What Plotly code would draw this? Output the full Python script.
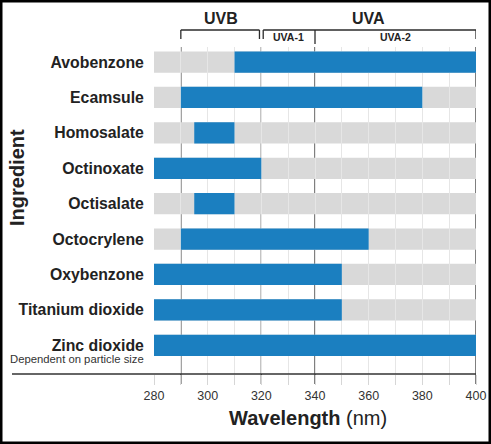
import plotly.graph_objects as go

# absorbance range of each sunscreen ingredient (nm)
ingredients = ["Avobenzone", "Ecamsule", "Homosalate", "Octinoxate", "Octisalate",
               "Octocrylene", "Oxybenzone", "Titanium dioxide", "Zinc dioxide"]
start_nm = [310, 290, 295, 280, 295, 290, 280, 280, 280]
end_nm = [400, 380, 310, 320, 310, 360, 350, 350, 400]

x_min, x_max = 280, 400
tick_vals = list(range(280, 401, 10))
tick_text = [str(v) if v % 20 == 0 else "" for v in tick_vals]
band_lines = [290, 320, 340, 400]

# UV bands shown on top
uv_main = [("UVB", 290, 320, 305), ("UVA", 320, 400, 360)]
uv_sub = [("UVA-1", 330), ("UVA-2", 370)]
uv_sub_split = 340

W, H = 491, 444
top, bottom, left, right = 47, 374, 154, 476


def py(p):
    # pixel row -> paper y
    return (bottom - p) / (bottom - top)


def px_(p):
    return (p - left) / (right - left)


blue = "#1b7fc0"
band = "#d9d9d9"
dark = "#2b2b2b"

fig = go.Figure()
fig.add_trace(go.Bar(
    y=ingredients, x=[e - s for s, e in zip(start_nm, end_nm)], base=start_nm,
    orientation="h", width=0.6, marker=dict(color=blue, line=dict(width=0)),
    showlegend=False, hoverinfo="skip"))

shapes = []
# grey band behind every row
for i in range(len(ingredients)):
    shapes.append(dict(type="rect", xref="x", yref="y", x0=x_min, x1=x_max,
                       y0=i - 0.3, y1=i + 0.3, fillcolor=band, line_width=0,
                       layer="below"))
# dark lines at band boundaries
for v in band_lines:
    shapes.append(dict(type="line", xref="x", yref="paper", x0=v, x1=v,
                       y0=py(384), y1=1, line=dict(color=dark, width=1.2),
                       layer="between"))
# brackets
for name, a, b, c in uv_main:
    a2 = a + 0.7 if a == 320 else a
    b2 = b - 0.7 if b == 320 else b
    shapes.append(dict(type="line", xref="x", yref="paper", x0=a2, x1=b2,
                       y0=py(30), y1=py(30), line=dict(color=dark, width=1.3)))
    for v in (a2, b2):
        shapes.append(dict(type="line", xref="x", yref="paper", x0=v, x1=v,
                           y0=py(30), y1=py(39), line=dict(color=dark, width=1.3)))
shapes.append(dict(type="line", xref="x", yref="paper", x0=uv_sub_split, x1=uv_sub_split,
                   y0=py(30), y1=py(44), line=dict(color=dark, width=1.3)))
# x axis line
shapes.append(dict(type="line", xref="paper", yref="paper", x0=px_(12), x1=1,
                   y0=0, y1=0, line=dict(color="#333333", width=1.5)))
# outer frame
shapes.append(dict(type="rect", xref="paper", yref="paper", x0=px_(1), x1=px_(490),
                   y0=py(443), y1=py(1), line=dict(color="black", width=3)))

annotations = []
for name, a, b, c in uv_main:
    annotations.append(dict(text="<b>%s</b>" % name, x=c, xref="x", y=py(18), yref="paper",
                            font=dict(size=16, color="#222222")))
for name, c in uv_sub:
    annotations.append(dict(text="<b>%s</b>" % name, x=c, xref="x", y=py(37), yref="paper",
                            font=dict(size=10.5, color="#222222")))
annotations.append(dict(text="Dependent on particle size", x=px_(146), xref="paper",
                        xanchor="right", y=py(359), yref="paper",
                        font=dict(size=11.3, color="#333333")))
annotations.append(dict(text="<b>Ingredient</b>", x=px_(17), xref="paper", y=py(178),
                        yref="paper", textangle=-90,
                        font=dict(size=20, color="#222222")))
annotations.append(dict(text="<b>Wavelength</b> (nm)", x=px_(308), xref="paper",
                        y=py(418), yref="paper",
                        font=dict(size=20, color="#222222")))
for a in annotations:
    a["showarrow"] = False
    a.setdefault("xanchor", "center")
    a["yanchor"] = "middle"

fig.update_layout(
    width=W, height=H,
    margin=dict(l=left, r=W - right, t=top, b=H - bottom, autoexpand=False),
    paper_bgcolor="white", plot_bgcolor="white",
    font=dict(family="Liberation Sans, Arial, sans-serif"),
    shapes=shapes, annotations=annotations, bargap=0.4,
    xaxis=dict(range=[x_min, x_max], tickvals=tick_vals, ticktext=tick_text,
               showgrid=True, gridcolor="#e6e6e6", gridwidth=1,
               ticks="outside", ticklen=10, tickcolor="#d6d6d6",
               showline=False, zeroline=False,
               tickfont=dict(size=12.5, color="#333333")),
    yaxis=dict(categoryorder="array", categoryarray=ingredients,
               range=[8.81, -0.424], showgrid=False, zeroline=False,
               ticks="outside", ticklen=6, tickcolor="rgba(0,0,0,0)",
               tickfont=dict(size=15.8, color="#222222", weight="bold")),
)

fig.write_html("out.html", config={"displayModeBar": False},
               post_script="document.body.style.margin='0';")
